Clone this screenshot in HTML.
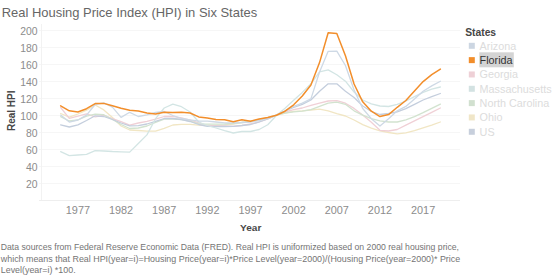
<!DOCTYPE html>
<html><head><meta charset="utf-8"><style>
html,body{margin:0;padding:0;background:#fff;width:554px;height:278px;overflow:hidden}
svg{display:block}
</style></head><body>
<svg width="554" height="278" viewBox="0 0 554 278">
<rect width="554" height="278" fill="#fff"/>
<text x="1.7" y="16.7" font-size="13.3" fill="#666666" textLength="255.5" lengthAdjust="spacingAndGlyphs" font-family="'Liberation Sans', sans-serif">Real Housing Price Index (HPI) in Six States</text>
<rect x="39" y="30" width="421" height="1" fill="#f6f6f6"/>
<text x="37.6" y="34.70" font-size="10.4" fill="#8c8c8c" text-anchor="end" font-family="'Liberation Sans', sans-serif">200</text>
<rect x="39" y="47" width="421" height="1" fill="#f6f6f6"/>
<text x="37.6" y="51.69" font-size="10.4" fill="#8c8c8c" text-anchor="end" font-family="'Liberation Sans', sans-serif">180</text>
<rect x="39" y="64" width="421" height="1" fill="#f6f6f6"/>
<text x="37.6" y="68.68" font-size="10.4" fill="#8c8c8c" text-anchor="end" font-family="'Liberation Sans', sans-serif">160</text>
<rect x="39" y="81" width="421" height="1" fill="#f6f6f6"/>
<text x="37.6" y="85.67" font-size="10.4" fill="#8c8c8c" text-anchor="end" font-family="'Liberation Sans', sans-serif">140</text>
<rect x="39" y="98" width="421" height="1" fill="#f6f6f6"/>
<text x="37.6" y="102.66" font-size="10.4" fill="#8c8c8c" text-anchor="end" font-family="'Liberation Sans', sans-serif">120</text>
<rect x="39" y="115" width="421" height="1" fill="#f6f6f6"/>
<text x="37.6" y="119.65" font-size="10.4" fill="#8c8c8c" text-anchor="end" font-family="'Liberation Sans', sans-serif">100</text>
<rect x="39" y="132" width="421" height="1" fill="#f6f6f6"/>
<text x="37.6" y="136.64" font-size="10.4" fill="#8c8c8c" text-anchor="end" font-family="'Liberation Sans', sans-serif">80</text>
<rect x="39" y="149" width="421" height="1" fill="#f6f6f6"/>
<text x="37.6" y="153.63" font-size="10.4" fill="#8c8c8c" text-anchor="end" font-family="'Liberation Sans', sans-serif">60</text>
<rect x="39" y="166" width="421" height="1" fill="#f6f6f6"/>
<text x="37.6" y="170.62" font-size="10.4" fill="#8c8c8c" text-anchor="end" font-family="'Liberation Sans', sans-serif">40</text>
<rect x="39" y="183" width="421" height="1" fill="#f6f6f6"/>
<text x="37.6" y="187.61" font-size="10.4" fill="#8c8c8c" text-anchor="end" font-family="'Liberation Sans', sans-serif">20</text>
<rect x="39" y="200" width="421" height="1" fill="#eeeeee"/>
<rect x="41" y="24" width="1" height="176" fill="#f2f2f2"/>
<text x="77.91" y="214.3" font-size="10" fill="#8c8c8c" text-anchor="middle" textLength="24.2" lengthAdjust="spacingAndGlyphs" font-family="'Liberation Sans', sans-serif">1977</text>
<text x="121.06" y="214.3" font-size="10" fill="#8c8c8c" text-anchor="middle" textLength="24.2" lengthAdjust="spacingAndGlyphs" font-family="'Liberation Sans', sans-serif">1982</text>
<text x="164.21" y="214.3" font-size="10" fill="#8c8c8c" text-anchor="middle" textLength="24.2" lengthAdjust="spacingAndGlyphs" font-family="'Liberation Sans', sans-serif">1987</text>
<text x="207.36" y="214.3" font-size="10" fill="#8c8c8c" text-anchor="middle" textLength="24.2" lengthAdjust="spacingAndGlyphs" font-family="'Liberation Sans', sans-serif">1992</text>
<text x="250.51" y="214.3" font-size="10" fill="#8c8c8c" text-anchor="middle" textLength="24.2" lengthAdjust="spacingAndGlyphs" font-family="'Liberation Sans', sans-serif">1997</text>
<text x="293.66" y="214.3" font-size="10" fill="#8c8c8c" text-anchor="middle" textLength="24.2" lengthAdjust="spacingAndGlyphs" font-family="'Liberation Sans', sans-serif">2002</text>
<text x="336.81" y="214.3" font-size="10" fill="#8c8c8c" text-anchor="middle" textLength="24.2" lengthAdjust="spacingAndGlyphs" font-family="'Liberation Sans', sans-serif">2007</text>
<text x="379.96" y="214.3" font-size="10" fill="#8c8c8c" text-anchor="middle" textLength="24.2" lengthAdjust="spacingAndGlyphs" font-family="'Liberation Sans', sans-serif">2012</text>
<text x="423.11" y="214.3" font-size="10" fill="#8c8c8c" text-anchor="middle" textLength="24.2" lengthAdjust="spacingAndGlyphs" font-family="'Liberation Sans', sans-serif">2017</text>
<text x="250.7" y="231.2" font-size="9.6" font-weight="bold" fill="#484848" text-anchor="middle" textLength="21.3" lengthAdjust="spacingAndGlyphs" font-family="'Liberation Sans', sans-serif">Year</text>
<text transform="translate(14.7,110.8) rotate(-90)" x="0" y="0" font-size="10" font-weight="bold" fill="#484848" text-anchor="middle" font-family="'Liberation Sans', sans-serif">Real HPI</text>
<polyline points="60.65,113.50 69.28,117.20 77.91,114.00 86.54,110.20 95.17,105.00 103.80,109.90 112.43,117.40 121.06,126.00 129.69,130.00 138.32,130.50 146.95,131.20 155.58,131.20 164.21,128.30 172.84,125.00 181.47,124.40 190.10,124.40 198.73,125.20 207.36,125.50 215.99,125.30 224.62,124.80 233.25,124.00 241.88,122.50 250.51,121.00 259.14,119.50 267.77,117.50 276.40,115.20 285.03,113.00 293.66,111.40 302.29,110.80 310.92,110.00 319.55,109.20 328.18,110.80 336.81,113.60 345.44,116.00 354.07,120.00 362.70,124.60 371.33,128.20 379.96,130.90 388.59,132.50 397.22,133.90 405.85,132.80 414.48,130.60 423.11,127.80 431.74,125.20 440.37,122.00" fill="none" stroke="#f1e6c4" stroke-width="1.3" stroke-linejoin="round" stroke-linecap="round"/>
<polyline points="60.65,107.50 69.28,118.30 77.91,116.20 86.54,113.80 95.17,116.90 103.80,115.30 112.43,118.50 121.06,121.70 129.69,125.10 138.32,123.00 146.95,121.30 155.58,119.20 164.21,116.50 172.84,116.30 181.47,118.00 190.10,120.10 198.73,122.80 207.36,125.50 215.99,126.00 224.62,125.80 233.25,126.30 241.88,125.50 250.51,124.00 259.14,122.00 267.77,119.00 276.40,115.20 285.03,112.00 293.66,109.70 302.29,108.00 310.92,105.40 319.55,103.20 328.18,101.00 336.81,100.60 345.44,103.20 354.07,108.40 362.70,115.10 371.33,122.30 379.96,130.30 388.59,131.00 397.22,129.50 405.85,125.20 414.48,120.90 423.11,116.60 431.74,112.30 440.37,108.00" fill="none" stroke="#f0d0d6" stroke-width="1.3" stroke-linejoin="round" stroke-linecap="round"/>
<polyline points="60.65,116.70 69.28,121.00 77.91,120.00 86.54,116.20 95.17,114.20 103.80,114.70 112.43,119.50 121.06,124.50 129.69,128.50 138.32,128.00 146.95,126.00 155.58,122.40 164.21,119.20 172.84,119.00 181.47,119.60 190.10,121.20 198.73,123.90 207.36,124.20 215.99,124.20 224.62,124.00 233.25,123.50 241.88,122.50 250.51,121.50 259.14,120.00 267.77,117.80 276.40,115.20 285.03,113.00 293.66,111.80 302.29,111.20 310.92,109.70 319.55,106.40 328.18,103.20 336.81,102.10 345.44,104.30 354.07,110.80 362.70,115.10 371.33,118.70 379.96,120.90 388.59,122.00 397.22,122.00 405.85,119.80 414.48,116.60 423.11,112.70 431.74,108.40 440.37,104.10" fill="none" stroke="#d2e3cf" stroke-width="1.3" stroke-linejoin="round" stroke-linecap="round"/>
<polyline points="60.65,124.80 69.28,127.00 77.91,124.80 86.54,120.50 95.17,115.80 103.80,116.50 112.43,119.50 121.06,123.00 129.69,125.80 138.32,125.60 146.95,124.00 155.58,121.30 164.21,118.50 172.84,118.50 181.47,119.50 190.10,121.50 198.73,124.50 207.36,126.30 215.99,126.50 224.62,126.50 233.25,126.30 241.88,125.50 250.51,124.50 259.14,122.00 267.77,119.00 276.40,115.20 285.03,111.00 293.66,107.50 302.29,104.30 310.92,100.00 319.55,91.30 328.18,83.80 336.81,83.80 345.44,91.30 354.07,97.50 362.70,106.00 371.33,111.50 379.96,114.50 388.59,113.50 397.22,111.80 405.85,108.60 414.48,104.30 423.11,100.00 431.74,96.70 440.37,93.50" fill="none" stroke="#c4cedd" stroke-width="1.3" stroke-linejoin="round" stroke-linecap="round"/>
<polyline points="60.65,151.70 69.28,155.60 77.91,155.00 86.54,154.30 95.17,150.60 103.80,151.00 112.43,151.50 121.06,151.80 129.69,152.10 138.32,143.50 146.95,134.90 155.58,118.70 164.21,108.00 172.84,104.10 181.47,106.70 190.10,112.00 198.73,122.00 207.36,125.50 215.99,128.00 224.62,130.70 233.25,133.00 241.88,131.50 250.51,131.50 259.14,129.50 267.77,124.80 276.40,115.50 285.03,108.20 293.66,100.30 302.29,92.40 310.92,83.80 319.55,71.90 328.18,69.90 336.81,74.70 345.44,81.20 354.07,92.00 362.70,100.00 371.33,103.80 379.96,106.00 388.59,106.50 397.22,104.30 405.85,101.00 414.48,96.70 423.11,92.40 431.74,89.20 440.37,87.00" fill="none" stroke="#d3e5e4" stroke-width="1.3" stroke-linejoin="round" stroke-linecap="round"/>
<polyline points="60.65,115.10 69.28,122.10 77.91,120.00 86.54,115.10 95.17,104.50 103.80,102.90 112.43,107.20 121.06,117.40 129.69,112.30 138.32,116.50 146.95,114.90 155.58,112.50 164.21,111.50 172.84,115.50 181.47,118.50 190.10,119.80 198.73,121.20 207.36,121.20 215.99,122.00 224.62,122.80 233.25,122.80 241.88,122.50 250.51,122.00 259.14,120.50 267.77,118.50 276.40,115.20 285.03,111.00 293.66,106.40 302.29,103.20 310.92,98.90 319.55,72.00 328.18,51.30 336.81,51.20 345.44,65.50 354.07,90.00 362.70,108.50 371.33,118.70 379.96,126.00 388.59,118.70 397.22,110.80 405.85,106.40 414.48,98.90 423.11,91.30 431.74,85.90 440.37,81.20" fill="none" stroke="#ced9e5" stroke-width="1.3" stroke-linejoin="round" stroke-linecap="round"/>
<polyline points="60.65,105.80 69.28,110.80 77.91,112.00 86.54,108.70 95.17,103.60 103.80,103.40 112.43,105.80 121.06,108.20 129.69,110.30 138.32,111.10 146.95,113.00 155.58,114.00 164.21,112.30 172.84,112.60 181.47,112.20 190.10,113.00 198.73,116.90 207.36,117.90 215.99,119.40 224.62,119.70 233.25,121.70 241.88,119.70 250.51,121.20 259.14,119.00 267.77,117.40 276.40,115.20 285.03,111.20 293.66,104.80 302.29,96.00 310.92,85.00 319.55,62.60 328.18,32.80 336.81,33.40 345.44,55.80 354.07,84.00 362.70,101.80 371.33,111.20 379.96,116.60 388.59,114.60 397.22,107.30 405.85,100.50 414.48,91.00 423.11,81.60 431.74,74.70 440.37,69.10" fill="none" stroke="#f28e2b" stroke-width="1.5" stroke-linejoin="round" stroke-linecap="round"/>
<text x="465.2" y="35.8" font-size="10.3" font-weight="bold" fill="#464646" font-family="'Liberation Sans', sans-serif">States</text>
<rect x="479.3" y="52.3" width="34.5" height="15" fill="#d4d4d4"/>
<rect x="468.8" y="42.80" width="6" height="6" fill="#ccd6e2"/>
<text x="479.6" y="49.70" font-size="10.8" fill="#dcdcdc" font-family="'Liberation Sans', sans-serif">Arizona</text>
<rect x="468.8" y="57.13" width="6" height="6" fill="#f28e2b"/>
<text x="479.6" y="64.03" font-size="10.8" fill="#333" font-family="'Liberation Sans', sans-serif">Florida</text>
<rect x="468.8" y="71.46" width="6" height="6" fill="#eed0d6"/>
<text x="479.6" y="78.36" font-size="10.8" fill="#dcdcdc" font-family="'Liberation Sans', sans-serif">Georgia</text>
<rect x="468.8" y="85.79" width="6" height="6" fill="#d3e2e2"/>
<text x="479.6" y="92.69" font-size="10.8" fill="#dcdcdc" font-family="'Liberation Sans', sans-serif">Massachusetts</text>
<rect x="468.8" y="100.12" width="6" height="6" fill="#d1e0cf"/>
<text x="479.6" y="107.02" font-size="10.8" fill="#dcdcdc" font-family="'Liberation Sans', sans-serif">North Carolina</text>
<rect x="468.8" y="114.45" width="6" height="6" fill="#f0e6c8"/>
<text x="479.6" y="121.35" font-size="10.8" fill="#dcdcdc" font-family="'Liberation Sans', sans-serif">Ohio</text>
<rect x="468.8" y="128.78" width="6" height="6" fill="#c7cfdc"/>
<text x="479.6" y="135.68" font-size="10.8" fill="#dcdcdc" font-family="'Liberation Sans', sans-serif">US</text>
<text x="0.8" y="250.20" font-size="8.75" fill="#747474" textLength="458.2" lengthAdjust="spacingAndGlyphs" font-family="'Liberation Sans', sans-serif">Data sources from Federal Reserve Economic Data (FRED). Real HPI is uniformized based on 2000 real housing price,</text>
<text x="0.8" y="261.55" font-size="8.75" fill="#747474" textLength="459.4" lengthAdjust="spacingAndGlyphs" font-family="'Liberation Sans', sans-serif">which means that Real HPI(year=i)=Housing Price(year=i)*Price Level(year=2000)/(Housing Price(year=2000)* Price</text>
<text x="0.8" y="272.90" font-size="8.75" fill="#747474" textLength="74.8" lengthAdjust="spacingAndGlyphs" font-family="'Liberation Sans', sans-serif">Level(year=i) *100.</text>
</svg>
</body></html>
